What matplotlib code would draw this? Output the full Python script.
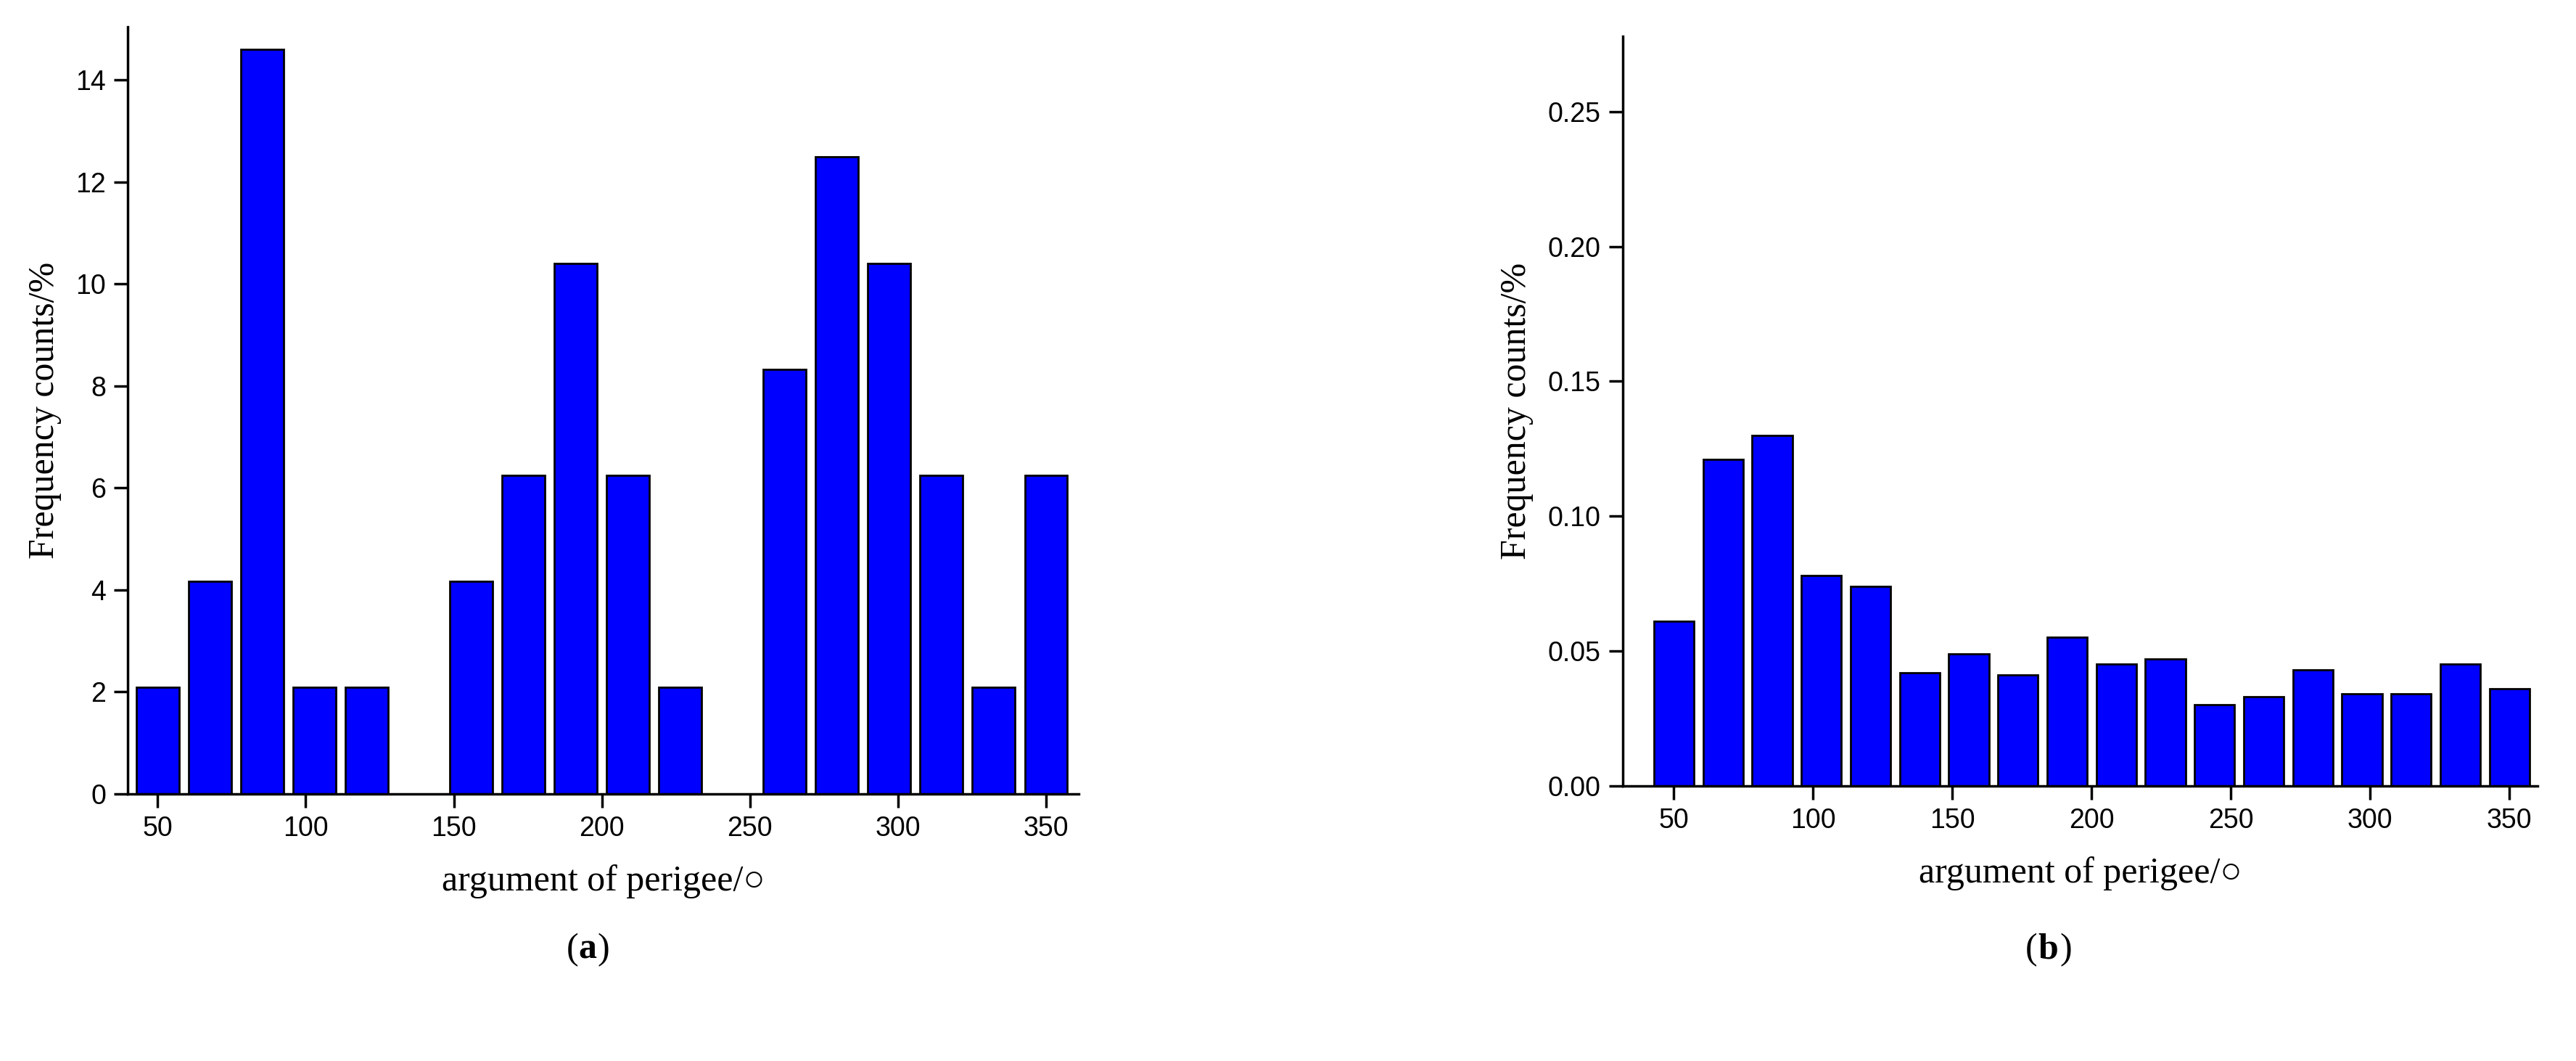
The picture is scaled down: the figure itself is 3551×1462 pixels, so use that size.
import numpy as np
import matplotlib
matplotlib.use("Agg")
import matplotlib.pyplot as plt

# argument-of-perigee bins (deg), 18 bins from 50 to 350
bins = np.linspace(50, 350, 18)
freq_a = [2.08, 4.17, 14.6, 2.08, 2.08, 0, 4.17, 6.25, 10.4, 6.25, 2.08, 0,
          8.33, 12.5, 10.4, 6.25, 2.08, 6.25]
freq_b = [0.061, 0.121, 0.130, 0.078, 0.074, 0.042, 0.049, 0.041, 0.055,
          0.045, 0.047, 0.030, 0.033, 0.043, 0.034, 0.034, 0.045, 0.036]
xticks = [50, 100, 150, 200, 250, 300, 350]

fig = plt.figure(figsize=(35.51, 14.62), dpi=100)
ax_a = fig.add_axes([0.0497, 0.252, 0.369, 0.723])
ax_b = fig.add_axes([0.630, 0.2595, 0.355, 0.7065])

width = 14.4
serif = "Liberation Serif"


def style(ax, xlim, ylim, yticks, fmt):
    for s in ("top", "right"):
        ax.spines[s].set_visible(False)
    for s in ("left", "bottom"):
        ax.spines[s].set_linewidth(2.5)
    ax.set_xlim(*xlim)
    ax.set_ylim(*ylim)
    ax.set_xticks(xticks)
    ax.set_yticks(yticks)
    ax.set_yticklabels([fmt.format(v) for v in yticks])
    ax.tick_params(direction="out", length=14, width=2.5, labelsize=27, pad=8)
    for lab in ax.get_xticklabels() + ax.get_yticklabels():
        lab.set_fontfamily("Liberation Sans")
    ax.set_xlabel("argument of perigee/\u25cb", fontfamily=serif, fontsize=36, labelpad=22)
    ax.set_ylabel("Frequency counts/%", fontfamily=serif, fontsize=36, labelpad=14)


ax_a.bar(bins, freq_a, width=width, color="#0000ff", edgecolor="black", linewidth=2)
style(ax_a, (40, 361), (0, 15.05), [0, 2, 4, 6, 8, 10, 12, 14], "{:g}")

ax_b.bar(bins, freq_b, width=width, color="#0000ff", edgecolor="black", linewidth=2)
style(ax_b, (31.7, 360), (0, 0.278), [0, 0.05, 0.10, 0.15, 0.20, 0.25], "{:.2f}")

fig.text(0.2245, 0.105, "(", fontfamily=serif, fontsize=36, ha="right", va="center")
fig.text(0.2245, 0.105, "a", fontfamily=serif, fontsize=36, fontweight="bold", ha="left", va="center")
fig.text(0.2245 + 0.0075, 0.105, ")", fontfamily=serif, fontsize=36, ha="left", va="center")
fig.text(0.7910, 0.105, "(", fontfamily=serif, fontsize=36, ha="right", va="center")
fig.text(0.7910, 0.105, "b", fontfamily=serif, fontsize=36, fontweight="bold", ha="left", va="center")
fig.text(0.7910 + 0.0085, 0.105, ")", fontfamily=serif, fontsize=36, ha="left", va="center")

fig.savefig("out.png", dpi=100)
